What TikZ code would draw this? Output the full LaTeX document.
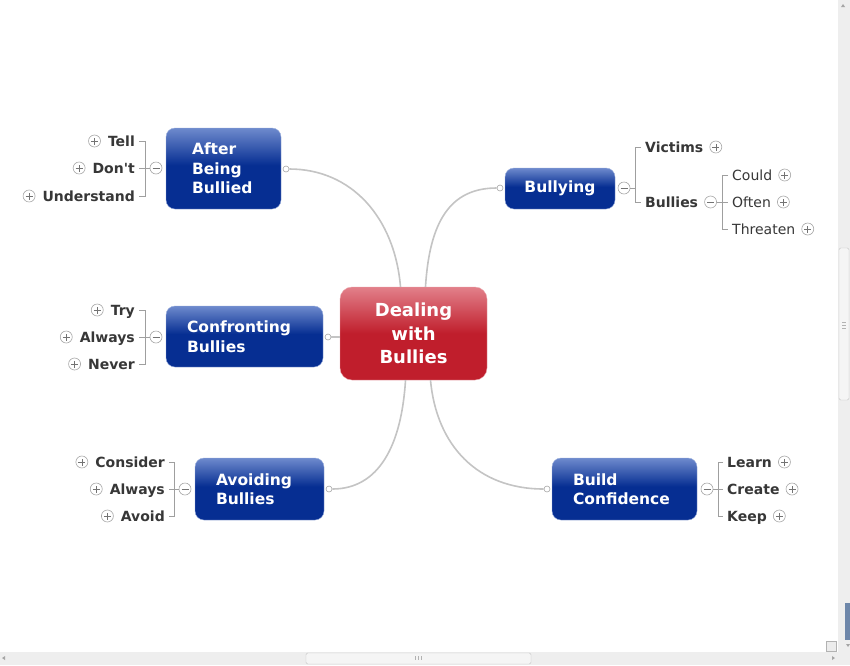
\documentclass[tikz,border=0pt]{standalone}
\usepackage{fontspec}
\setmainfont{DejaVu Sans}
\usepackage{xcolor}
\usepackage{tikz}
\usetikzlibrary{positioning}
\definecolor{azul}{RGB}{6,46,146}
\definecolor{azulclaro}{RGB}{110,138,205}
\definecolor{rojo}{RGB}{192,30,44}
\definecolor{rojoclaro}{RGB}{226,128,138}
\definecolor{gris}{RGB}{196,196,196}
\definecolor{grisoscuro}{RGB}{55,55,55}
\definecolor{barra}{RGB}{238,238,238}
\definecolor{azulbarra}{RGB}{110,135,170}
\pgfdeclareverticalshading{temaazul}{100bp}{color(0bp)=(azul); color(25bp)=(azul); color(52bp)=(azul); color(75bp)=(azulclaro); color(100bp)=(azulclaro)}
\pgfdeclareverticalshading{temarojo}{100bp}{color(0bp)=(rojo); color(25bp)=(rojo); color(50bp)=(rojo); color(75bp)=(rojoclaro); color(100bp)=(rojoclaro)}

\tikzset{
  tema/.style={draw=azulclaro!70,rounded corners=9pt,shade,shading=temaazul,
    text=white,font=\bfseries\fontsize{15.5}{19.5}\selectfont,inner xsep=21pt,align=left},
  centro/.style={draw=rojoclaro!70,rounded corners=12pt,shade,shading=temarojo,
    text=white,font=\bfseries\fontsize{18}{23.5}\selectfont,align=center},
  hoja/.style={inner sep=0pt,text height=10pt,text depth=0pt,text=grisoscuro,font=\bfseries\fontsize{14}{16}\selectfont},
  hojafina/.style={hoja,font=\fontsize{14}{16}\selectfont},
  boton/.style={circle,draw=gray!70,fill=white,minimum size=12pt,inner sep=0pt,line width=0.6pt},
  menos/.style={boton,path picture={\draw[gray!90!black,line width=0.6pt]
    ([xshift=-3.5pt]path picture bounding box.center) -- ([xshift=3.5pt]path picture bounding box.center);}},
  mas/.style={boton,path picture={\draw[gray!90!black,line width=0.6pt]
    ([xshift=-3.5pt]path picture bounding box.center) -- ([xshift=3.5pt]path picture bounding box.center)
    ([yshift=-3.5pt]path picture bounding box.center) -- ([yshift=3.5pt]path picture bounding box.center);}},
  punto/.style={circle,draw=gray!70,fill=white,minimum size=6pt,inner sep=0pt,line width=0.6pt},
  rama/.style={draw=gray!75,line width=0.8pt},
  enlace/.style={draw=gris,line width=1.6pt}
}

\begin{document}
\begin{tikzpicture}[x=1pt,y=-1pt]
\useasboundingbox (0,0) rectangle (850,665);
\fill[white] (0,0) rectangle (850,665);

% scroll bars
\fill[barra] (838,0) rectangle (850,665);
\fill[barra] (0,652) rectangle (838,665);
\draw[gray!45,fill=gray!8,rounded corners=1.5pt] (839,248) rectangle (849,400);
\draw[gray!60] (842,322) -- (846,322) (842,325) -- (846,325) (842,328) -- (846,328);
\draw[gray!45,fill=gray!8,rounded corners=1.5pt] (306,653) rectangle (531,664);
\draw[gray!60] (415,656) -- (415,660) (418,656) -- (418,660) (421,656) -- (421,660);
\fill[gray!70] (841,7) -- (845,7) -- (843,4) -- cycle;
\fill[gray!70] (846,644) -- (850,644) -- (848,647) -- cycle;
\fill[gray!70] (5,656) -- (5,660) -- (2,658) -- cycle;
\fill[gray!70] (832,656) -- (832,660) -- (835,658) -- cycle;
\fill[azulbarra] (845,603) rectangle (850,640);
\draw[gray!60,fill=gray!15] (826,641) rectangle (836,651);

% central topic
\node[centro,minimum width=147pt,minimum height=93pt] (central) at (413.5,333.5) {Dealing\\with\\Bullies};

% After Being Bullied
\node[tema,text width=63pt,inner xsep=26pt,minimum height=81pt] (abb) at (223.5,168.5) {After\\Being\\Bullied};
\node[punto] (abbpunto) at (286,169) {};
\node[menos] (abbmenos) at (156,168) {};
\node[hoja,anchor=east] (tell) at (135,141) {Tell};
\node[hoja,anchor=east] (dont) at (135,168) {Don\textquotesingle t};
\node[hoja,anchor=east] (underst) at (135,196) {Understand};
\node[mas,left=7pt of tell] (tellmas) {};
\node[mas,left=7pt of dont] (dontmas) {};
\node[mas,left=7pt of underst] (understmas) {};
\draw[rama] ([xshift=4pt]tell.east) -- ++(6,0) |- ([xshift=4pt]underst.east);
\draw[rama] ([xshift=4pt]dont.east) -- (abbmenos.west);

% Confronting Bullies
\node[tema,text width=115pt,minimum height=61pt] (conf) at (244.5,336.5) {Confronting\\Bullies};
\node[punto] (confpunto) at (328,337) {};
\node[menos] (confmenos) at (156,337) {};
\node[hoja,anchor=east] (try) at (135,310) {Try};
\node[hoja,anchor=east] (siempre) at (135,337) {Always};
\node[hoja,anchor=east] (nunca) at (135,364) {Never};
\node[mas,left=7pt of try] (trymas) {};
\node[mas,left=7pt of siempre] (siempremas) {};
\node[mas,left=7pt of nunca] (nuncamas) {};
\draw[rama] ([xshift=4pt]try.east) -- ++(6,0) |- ([xshift=4pt]nunca.east);
\draw[rama] ([xshift=4pt]siempre.east) -- (confmenos.west);

% Avoiding Bullies
\node[tema,text width=87pt,minimum height=62pt] (avoid) at (259.5,489) {Avoiding\\Bullies};
\node[punto] (avoidpunto) at (329,489) {};
\node[menos] (avoidmenos) at (185,489) {};
\node[hoja,anchor=east] (consider) at (165,462) {Consider};
\node[hoja,anchor=east] (siempre2) at (165,489) {Always};
\node[hoja,anchor=east] (evitar) at (165,516) {Avoid};
\node[mas,left=7pt of consider] (considermas) {};
\node[mas,left=7pt of siempre2] (siempre2mas) {};
\node[mas,left=7pt of evitar] (evitarmas) {};
\draw[rama] ([xshift=4pt]consider.east) -- ++(5,0) |- ([xshift=4pt]evitar.east);
\draw[rama] ([xshift=4pt]siempre2.east) -- (avoidmenos.west);

% Bullying
\node[tema,align=center,inner xsep=0pt,minimum width=110pt,minimum height=41pt] (bullying) at (560,188.5) {Bullying};
\node[punto] (bypunto) at (500,188) {};
\node[menos] (bymenos) at (624,188) {};
\node[hoja,anchor=west] (victims) at (645,147) {Victims};
\node[hoja,anchor=west] (bullies) at (645,202) {Bullies};
\node[mas,right=6pt of victims] (victimsmas) {};
\node[menos,right=6pt of bullies] (bulliesmenos) {};
\draw[rama] ([xshift=-4pt]victims.west) -- ++(-6,0) |- ([xshift=-4pt]bullies.west);
\draw[rama] (bymenos.east) -- ++(5,0);
\node[hojafina,anchor=west] (could) at (732,175) {Could};
\node[hojafina,anchor=west] (often) at (732,202) {Often};
\node[hojafina,anchor=west] (threaten) at (732,229) {Threaten};
\node[mas,right=6pt of could] (couldmas) {};
\node[mas,right=6pt of often] (oftenmas) {};
\node[mas,right=6pt of threaten] (threatenmas) {};
\draw[rama] ([xshift=-4pt]could.west) -- ++(-6,0) |- ([xshift=-4pt]threaten.west);
\draw[rama] (bulliesmenos.east) -- ([xshift=-4pt]often.west);

% Build Confidence
\node[tema,text width=103pt,minimum height=62pt] (build) at (624.5,489) {Build\\Confidence};
\node[punto] (buildpunto) at (547,489) {};
\node[menos] (buildmenos) at (707,489) {};
\node[hoja,anchor=west] (learn) at (727,462) {Learn};
\node[hoja,anchor=west] (create) at (727,489) {Create};
\node[hoja,anchor=west] (keep) at (727,516) {Keep};
\node[mas,right=6pt of learn] (learnmas) {};
\node[mas,right=6pt of create] (createmas) {};
\node[mas,right=6pt of keep] (keepmas) {};
\draw[rama] ([xshift=-4pt]learn.west) -- ++(-5,0) |- ([xshift=-4pt]keep.west);
\draw[rama] (buildmenos.east) -- ([xshift=-4pt]create.west);

% connectors to the central topic
\draw[enlace] (abbpunto) .. controls +(65,0) and +(-6,-70) .. ([xshift=-13pt]central.north);
\draw[enlace] (bypunto) .. controls +(-50,0) and +(4,-65) .. ([xshift=12pt]central.north);
\draw[enlace] (confpunto) -- (central.west |- confpunto);
\draw[enlace] (avoidpunto) .. controls +(50,0) and +(-4,65) .. ([xshift=-8pt]central.south);
\draw[enlace] (buildpunto) .. controls +(-70,0) and +(6,65) .. ([xshift=17pt]central.south);
\end{tikzpicture}
\end{document}
